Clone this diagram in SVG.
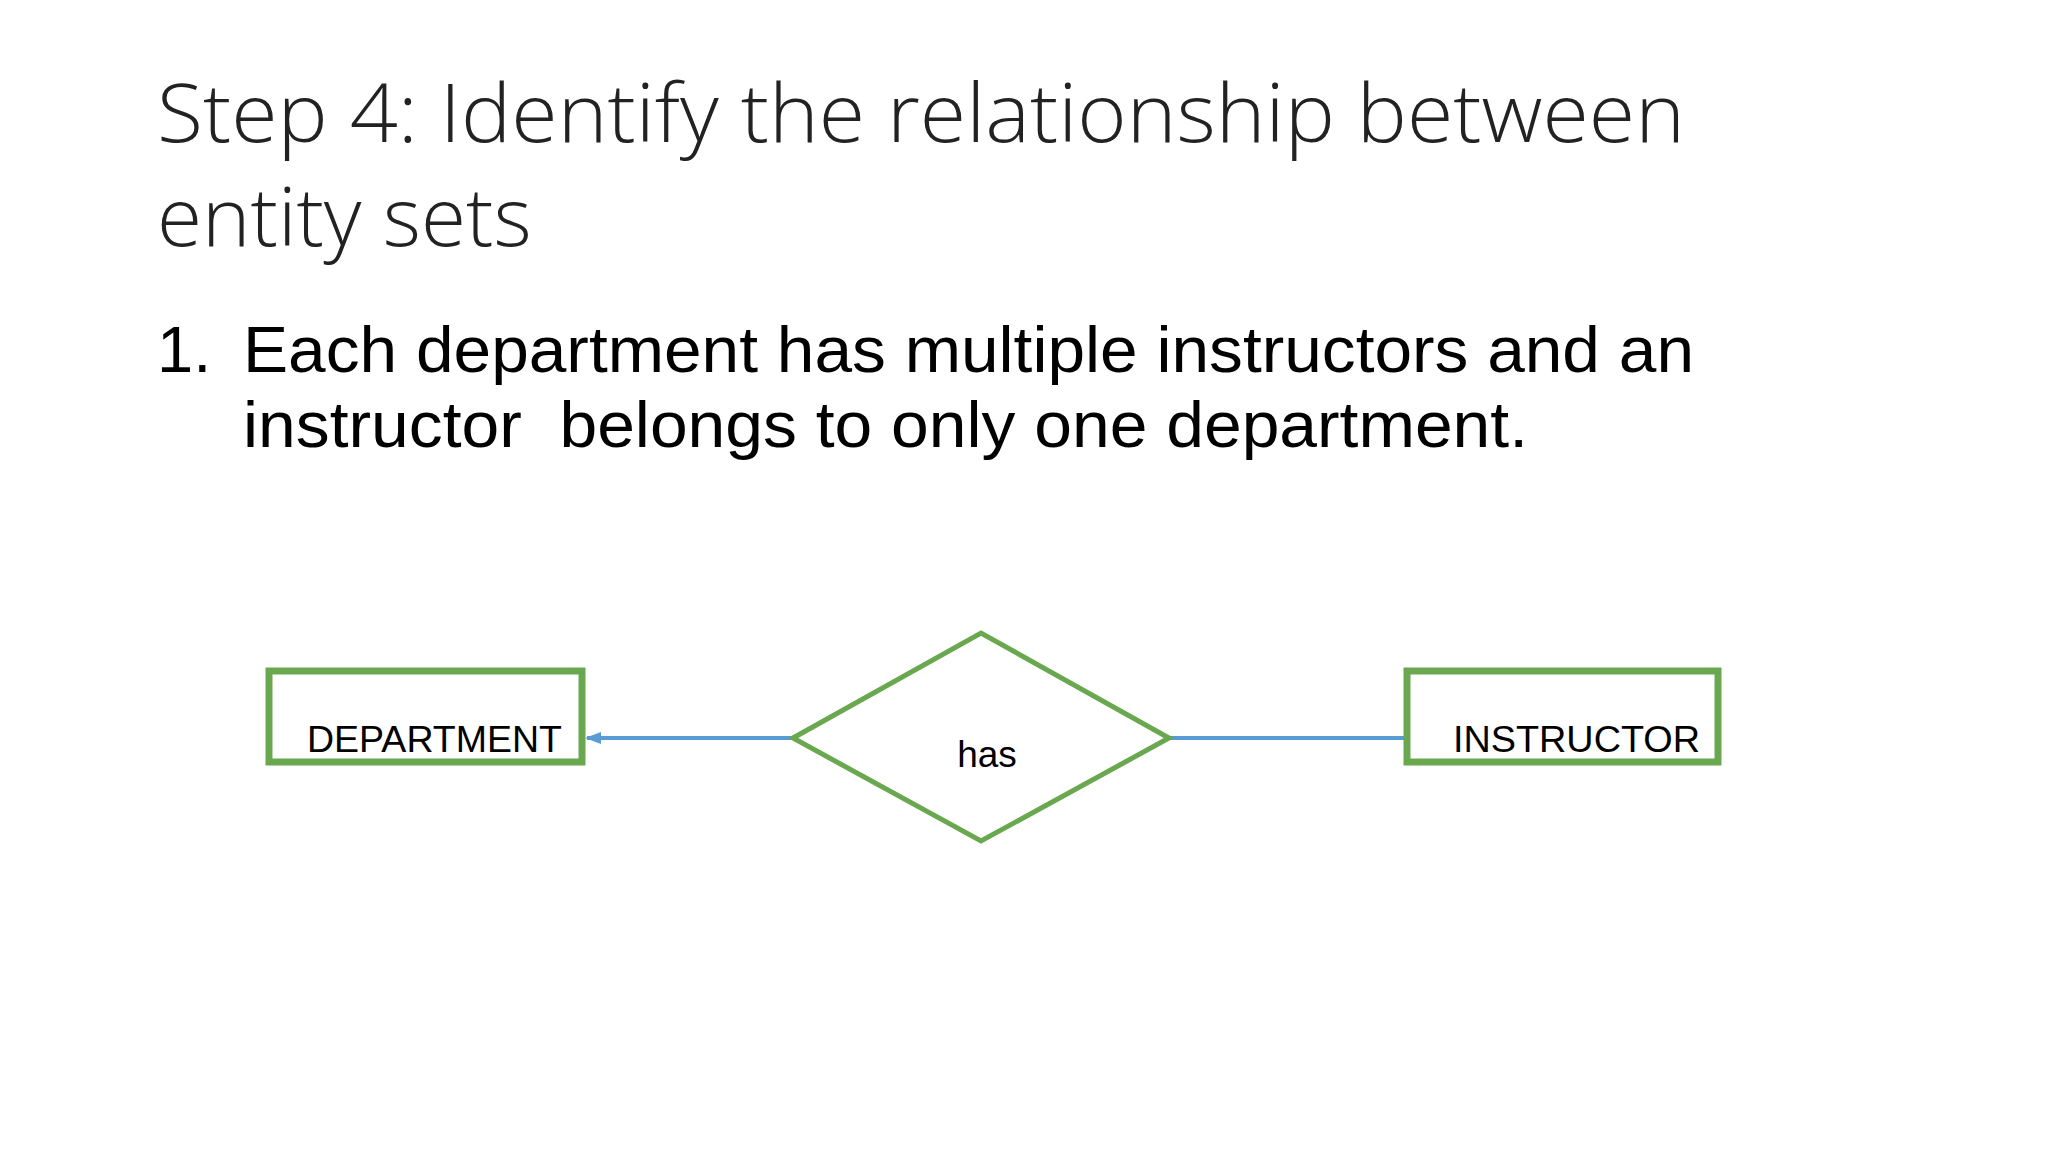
<svg xmlns="http://www.w3.org/2000/svg" width="2048" height="1152" viewBox="0 0 2048 1152">
<style>
.t{font-family:"Open Sans","Liberation Sans",sans-serif;font-weight:300;font-size:82px;fill:#222}
.b{font-family:"Liberation Sans",Arial,sans-serif;font-size:65px;fill:#000}
.l{font-family:"Liberation Sans",Arial,sans-serif;font-size:37px;fill:#000}
.e{fill:#fff;stroke:#6aa84f;stroke-width:7}
.c{stroke:#5b9bd5;stroke-width:4;fill:none}
</style>
<defs><marker id="a" markerWidth="16" markerHeight="14" refX="14" refY="7" orient="auto" markerUnits="userSpaceOnUse" viewBox="0 0 16 14"><path d="M0,1 L16,7 L0,13 Z" fill="#5b9bd5"/></marker></defs>
<rect width="2048" height="1152" fill="#fff"/>
<text class="t" x="157" y="142" textLength="1528" lengthAdjust="spacingAndGlyphs">Step 4: Identify the relationship between</text>
<text class="t" x="157" y="246">entity sets</text>
<text class="b" x="157" y="372">1.</text>
<text class="b" x="243" y="372" textLength="1451" lengthAdjust="spacingAndGlyphs">Each department has multiple instructors and an</text>
<text class="b" x="243" y="447" textLength="1285" lengthAdjust="spacingAndGlyphs" xml:space="preserve">instructor  belongs to only one department.</text>
<g id="connectors">
<line class="c" x1="793" y1="738" x2="587" y2="738" marker-end="url(#a)"/>
<line class="c" x1="1169" y1="738" x2="1407" y2="738"/>
</g>
<g id="department"><rect class="e" x="269" y="671" width="313" height="91"/><text class="l" x="307" y="752" textLength="255" lengthAdjust="spacingAndGlyphs">DEPARTMENT</text></g>
<g id="has"><polygon class="e" points="793,738 981,633 1169,738 981,841" style="stroke-width:5"/><text class="l" x="987" y="767" text-anchor="middle">has</text></g>
<g id="instructor"><rect class="e" x="1407" y="671" width="311" height="91"/><text class="l" x="1453" y="752" textLength="247" lengthAdjust="spacingAndGlyphs">INSTRUCTOR</text></g>
</svg>
